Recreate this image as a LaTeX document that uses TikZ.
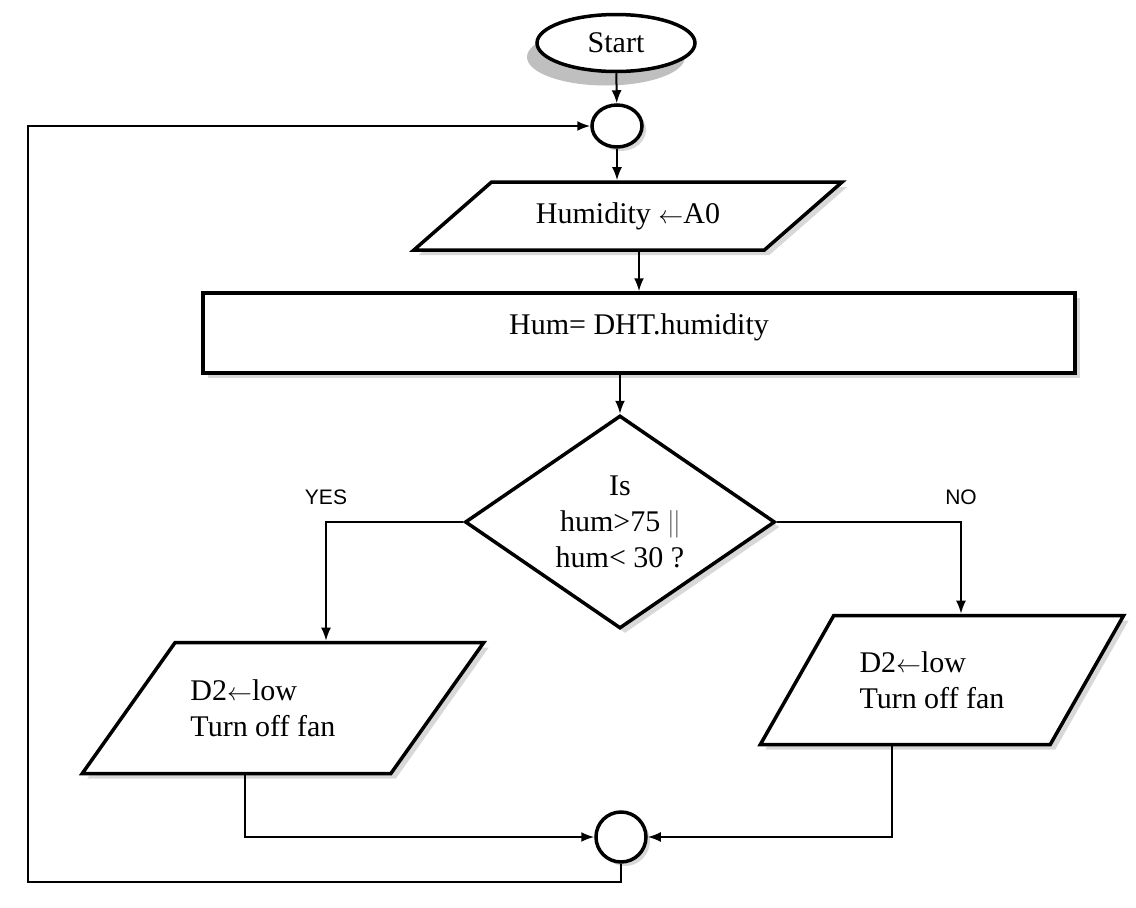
\documentclass[tikz,border=0pt]{standalone}
\usepackage{fontspec}
\setmainfont{Liberation Serif}
\newfontfamily\labelfont{Liberation Sans}
\usepackage{tikz}
\usetikzlibrary{shapes,arrows,arrows.meta,shadows}
\tikzstyle{terminal} = [ellipse, draw, line width=3.5pt, fill=white,
    minimum width=158pt, minimum height=57pt]
\tikzstyle{connector} = [ellipse, draw, line width=3.5pt, fill=white,
    inner sep=0pt, drop shadow={shadow xshift=4pt, shadow yshift=-4pt, fill=gray!60}]
\tikzstyle{io} = [trapezium, draw, line width=3.5pt, fill=white, trapezium stretches=true,
    drop shadow={shadow xshift=5pt, shadow yshift=-5pt, fill=gray!60}]
\tikzstyle{block} = [rectangle, draw, line width=3.5pt, fill=white,
    minimum width=872pt, minimum height=80pt,
    drop shadow={shadow xshift=5pt, shadow yshift=-5pt, fill=gray!60}]
\tikzstyle{decision} = [diamond, draw, line width=3.5pt, fill=white, aspect=1.46,
    minimum width=310pt, minimum height=213pt, inner sep=0pt,
    drop shadow={shadow xshift=5pt, shadow yshift=-5pt, fill=gray!60}]
\tikzstyle{line} = [draw, line width=2pt, -{Latex[length=13pt,width=10pt]}]
\tikzstyle{tag} = [font=\labelfont\fontsize{21}{24}\selectfont]
\begin{document}
\begin{tikzpicture}[x=1pt, y=-1pt, font=\fontsize{30}{36}\selectfont]
      \useasboundingbox (0,0) rectangle (1136,908);
      \fill [gray!50] (606,57) ellipse (79pt and 28.5pt);
      \node [terminal] (start) at (616,43) {Start};
      \node [connector, minimum width=50pt, minimum height=42pt] (loop) at (617,126) {};
      \node [io, trapezium left angle=32, trapezium right angle=148,
         minimum width=430pt, minimum height=68pt] (read) at (628,216)
         {Humidity \ensuremath{\leftarrow}A0};
      \node [block] (hum) at (639,333) {\raisebox{18pt}{Hum= DHT.humidity}};
      \node [decision, align=center] (check) at (620,522)
         {Is\\hum>75 {\color{gray}||}\\hum< 30 ?};
      \node [io, trapezium left angle=53, trapezium right angle=127, align=left,
         minimum width=402pt, minimum height=131pt] (yesout) at (283,708)
         {\hspace*{-40pt}D2\ensuremath{\leftarrow}low\\\hspace*{-40pt}Turn off fan};
      \node [io, trapezium left angle=55, trapezium right angle=125, align=left,
         minimum width=364pt, minimum height=129pt] (noout) at (942,680)
         {\hspace*{-20pt}D2\ensuremath{\leftarrow}low\\\hspace*{-20pt}Turn off fan};
      \node [connector, minimum width=50pt, minimum height=50pt] (join) at (621,837) {};
      \node [tag] (yes) at (326,497) {YES};
      \node [tag] (no) at (961,497) {NO};
      \coordinate (backlow) at (28,882);
      \coordinate (backtop) at (28,126);

      \path [line] (start) -- (loop);
      \path [line] (loop) -- (loop |- read.north);
      \path [line] (read.south -| hum.north) -- (hum.north);
      \path [line] (hum.south -| check.north) -- (check.north);
      \path [line] (check.west) -| (yesout.north -| yes.south);
      \path [line] (check.east) -| (noout.north -| no.south);
      \path [line] (yesout.south -| 245,0) |- (join.west);
      \path [line] (noout.south -| 892,0) |- (join.east);
      \path [line] (join.south) |- (backlow) -- (backtop) -- (loop.west);
   \end{tikzpicture}
\end{document}
